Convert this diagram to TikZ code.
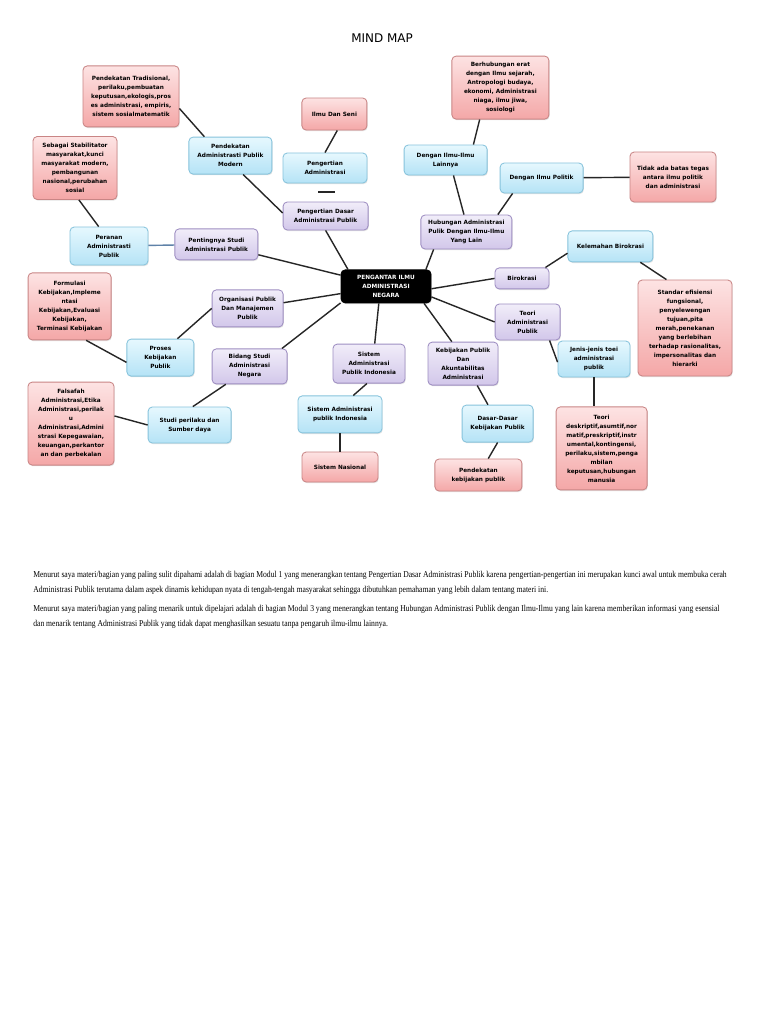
\documentclass[tikz,border=0pt]{standalone}
\usepackage{fontspec}
\setmainfont{Liberation Serif}
\setsansfont{DejaVu Sans}
\newfontfamily\essayfont[FakeStretch=0.85]{Liberation Serif}
\usepackage{tikz}
\usetikzlibrary{calc,shadows}
\definecolor{mmR1}{HTML}{FDE3E3}
\definecolor{mmR2}{HTML}{F4A7A7}
\definecolor{mmR3}{HTML}{C98585}
\definecolor{mmB1}{HTML}{E6F8FE}
\definecolor{mmB2}{HTML}{B5E3F6}
\definecolor{mmB3}{HTML}{86C3DC}
\definecolor{mmP1}{HTML}{F1EDF9}
\definecolor{mmP2}{HTML}{D2C7EA}
\definecolor{mmP3}{HTML}{9E8EC2}
\definecolor{mmLink}{HTML}{5F82A8}

\begin{document}
\begin{tikzpicture}[
  every node/.style={font=\sffamily\bfseries\fontsize{4.1}{6.4}\selectfont},
  card/.style={rectangle, rounded corners=3pt, align=center, inner sep=1pt, line width=0.6pt,
               drop shadow={opacity=0.22, shadow xshift=0.5pt, shadow yshift=-0.8pt}},
  redb/.style={card, draw=mmR3, top color=mmR1, bottom color=mmR2},
  blueb/.style={card, draw=mmB3, top color=mmB1, bottom color=mmB2},
  purb/.style={card, draw=mmP3, top color=mmP1, bottom color=mmP2},
  rootb/.style={card, fill=black, draw=black, text=white},
  sz/.style 2 args={minimum width=#1cm, minimum height=#2cm},
  lnk/.style={line width=1pt, black!85}
]
  \fill[white] (0,0) rectangle (19.2,-25.6);
  \useasboundingbox (0,0) rectangle (19.2,-25.6);

  \node[font=\sffamily\fontsize{8.5}{10}\selectfont] (title) at (9.55,-0.95) {MIND MAP};

  % ---- centre ----
  \node[rootb, sz={2.25}{0.825}] (root) at (9.65,-7.16) {PENGANTAR ILMU\\ADMINISTRASI\\NEGARA};

  % ---- upper left ----
  \node[redb, sz={2.4}{1.525}] (trad) at (3.275,-2.41) {Pendekatan Tradisional,\\perilaku,pembuatan\\keputusan,ekologis,pros\\es administrasi, empiris,\\sistem sosialmatematik};
  \node[redb, sz={2.1}{1.575}] (stab) at (1.875,-4.2) {Sebagai Stabilitator\\masyarakat,kunci\\masyarakat modern,\\pembangunan\\nasional,perubahan\\sosial};
  \node[blueb, sz={2.075}{0.925}] (modern) at (5.76,-3.89) {Pendekatan\\Administrasti Publik\\Modern};
  \node[redb, sz={1.625}{0.8}] (seni) at (8.36,-2.85) {Ilmu Dan Seni};
  \node[blueb, sz={2.1}{0.75}] (pengadm) at (8.125,-4.2) {Pengertian\\Administrasi};
  \node[purb, sz={2.125}{0.7}] (dasar) at (8.14,-5.4) {Pengertian Dasar\\Administrasi Publik};
  \node[purb, sz={2.075}{0.775}] (penting) at (5.41,-6.11) {Pentingnya Studi\\Administrasi Publik};
  \node[blueb, sz={1.95}{0.95}] (peranan) at (2.725,-6.15) {Peranan\\Administrasti\\Publik};
  \coordinate (dashL) at (7.95,-4.8);
  \coordinate (dashR) at (8.375,-4.8);

  % ---- upper right ----
  \node[redb, sz={2.425}{1.575}] (erat) at (12.51,-2.19) {Berhubungan erat\\dengan Ilmu sejarah,\\Antropologi budaya,\\ekonomi, Administrasi\\niaga, ilmu jiwa,\\sosiologi};
  \node[blueb, sz={2.075}{0.75}] (lain) at (11.14,-4.0) {Dengan Ilmu-Ilmu\\Lainnya};
  \node[blueb, sz={2.075}{0.75}] (politik) at (13.54,-4.45) {Dengan Ilmu Politik};
  \node[redb, sz={2.15}{1.25}] (tegas) at (16.825,-4.425) {Tidak ada batas tegas\\antara ilmu politik\\dan administrasi};
  \node[purb, sz={2.275}{0.85}] (hub) at (11.66,-5.8) {Hubungan Administrasi\\Pulik Dengan Ilmu-Ilmu\\Yang Lain};

  % ---- right ----
  \node[purb, sz={1.35}{0.525}] (biro) at (13.05,-6.96) {Birokrasi};
  \node[blueb, sz={2.125}{0.775}] (lemah) at (15.26,-6.16) {Kelemahan Birokrasi};
  \node[redb, sz={2.35}{2.4}] (standar) at (17.125,-8.2) {Standar efisiensi\\fungsional,\\penyelewengan\\tujuan,pita\\merah,penekanan\\yang berlebihan\\terhadap rasionalitas,\\impersonalitas dan\\hierarki};
  \node[purb, sz={1.625}{0.9}] (teori) at (13.19,-8.05) {Teori\\Administrasi\\Publik};
  \node[blueb, sz={1.8}{0.9}] (jenis) at (14.85,-8.975) {Jenis-jenis toei\\administrasi\\publik};
  \node[redb, sz={2.275}{2.075}] (deskr) at (15.04,-11.21) {Teori\\deskriptif,asumtif,nor\\matif,preskriptif,instr\\umental,kontingensi,\\perilaku,sistem,penga\\mbilan\\keputusan,hubungan\\manusia};

  % ---- lower left ----
  \node[purb, sz={1.775}{0.925}] (org) at (6.19,-7.71) {Organisasi Publik\\Dan Manajemen\\Publik};
  \node[blueb, sz={1.675}{0.925}] (proses) at (4.01,-8.94) {Proses\\Kebijakan\\Publik};
  \node[redb, sz={2.075}{1.675}] (formul) at (1.74,-7.66) {Formulasi\\Kebijakan,Impleme\\ntasi\\Kebijakan,Evaluasi\\Kebijakan,\\Terminasi Kebijakan};
  \node[purb, sz={1.875}{0.875}] (bidang) at (6.24,-9.16) {Bidang Studi\\Administrasi\\Negara};
  \node[blueb, sz={2.075}{0.9}] (perilaku) at (4.74,-10.625) {Studi perilaku dan\\Sumber daya};
  \node[redb, sz={2.15}{2.075}] (falsafah) at (1.775,-10.59) {Falsafah\\Administrasi,Etika\\Administrasi,perilak\\u\\Administrasi,Admini\\strasi Kepegawaian,\\keuangan,perkantor\\an dan perbekalan};

  % ---- lower middle ----
  \node[purb, sz={1.8}{0.975}] (sapi) at (9.225,-9.09) {Sistem\\Administrasi\\Publik Indonesia};
  \node[blueb, sz={2.1}{0.925}] (sapi2) at (8.5,-10.36) {Sistem Administrasi\\publik Indonesia};
  \node[redb, sz={1.9}{0.75}] (nasional) at (8.5,-11.675) {Sistem Nasional};
  \node[purb, sz={1.75}{1.075}] (kebij) at (11.575,-9.09) {Kebijakan Publik\\Dan\\Akuntabilitas\\Administrasi};
  \node[blueb, sz={1.775}{0.925}] (dasark) at (12.44,-10.59) {Dasar-Dasar\\Kebijakan Publik};
  \node[redb, sz={2.175}{0.8}] (pendk) at (11.96,-11.875) {Pendekatan\\kebijakan publik};

  % ---- links ----
  \draw[lnk] (root.156) -- (dasar.south);
  \draw[lnk] (dasar.176) -- (modern.304);
  \draw[lnk] (modern.144) -- (trad.346);
  \draw[lnk] (pengadm.north) -- (seni.280);
  \draw[lnk] (dashL) -- (dashR);
  \draw[lnk] (root) -- (penting);
  \draw[line width=1pt, mmLink] (penting) -- (peranan);
  \draw[lnk] (peranan.118) -- (stab.277);
  \draw[lnk] (root) -- (org);
  \draw[lnk] (org.west) -- (proses.48);
  \draw[lnk] (proses.188) -- (formul.296);
  \draw[lnk] (root.200) -- (bidang.29);
  \draw[lnk] (bidang.217) -- (perilaku.80);
  \draw[lnk] (perilaku.west) -- (falsafah.10);
  \draw[lnk] (root.247) -- (sapi.74);
  \draw[lnk] (sapi.264) -- (sapi2.55);
  \draw[lnk] (sapi2) -- (nasional);
  \draw[lnk] (root.336) -- (kebij.117);
  \draw[lnk] (kebij.303) -- (dasark.117);
  \draw[lnk] (dasark.south) -- (pendk.59);
  \draw[lnk] (root.347) -- (teori.west);
  \draw[lnk] (teori.320) -- (jenis.185);
  \draw[lnk] (jenis.south) -- (jenis.south |- deskr.north);
  \draw[lnk] (root.357) -- (biro.west);
  \draw[lnk] (biro.25) -- (lemah.189);
  \draw[lnk] (lemah.332) -- (standar.111);
  \draw[lnk] (root.23) -- (hub.208);
  \draw[lnk] (hub.98) -- (lain.297);
  \draw[lnk] (lain.29) -- (erat.237);
  \draw[lnk] (hub.29) -- (politik.208);
  \draw[lnk] (politik) -- (tegas);

  % ---- notes below ----
  \node[anchor=north west, inner sep=0, align=left, font=\essayfont\fontsize{6.4}{10.7}\selectfont] (para1) at (0.825,-14.27)
    {Menurut saya materi/bagian yang paling sulit dipahami adalah di bagian Modul 1 yang menerangkan tentang Pengertian Dasar Administrasi Publik karena pengertian-pengertian ini merupakan kunci awal untuk membuka cerah\\
     Administrasi Publik terutama dalam aspek dinamis kehidupan nyata di tengah-tengah masyarakat sehingga dibutuhkan pemahaman yang lebih dalam tentang materi ini.};
  \node[anchor=north west, inner sep=0, align=left, font=\essayfont\fontsize{6.4}{10.7}\selectfont] (para2) at (0.825,-15.12)
    {Menurut saya materi/bagian yang paling menarik untuk dipelajari adalah di bagian Modul 3 yang menerangkan tentang Hubungan Administrasi Publik dengan Ilmu-Ilmu yang lain karena memberikan informasi yang esensial\\
     dan menarik tentang Administrasi Publik yang tidak dapat menghasilkan sesuatu tanpa pengaruh ilmu-ilmu lainnya.};
\end{tikzpicture}
\end{document}
